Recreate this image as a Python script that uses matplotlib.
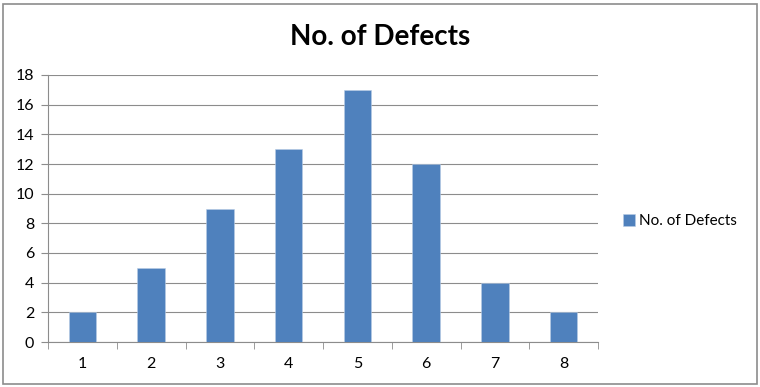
import matplotlib
matplotlib.use("Agg")
import matplotlib.pyplot as plt
from matplotlib.patches import Rectangle

categories = ["1", "2", "3", "4", "5", "6", "7", "8"]
defects = [2, 5, 9, 13, 17, 12, 4, 2]
series_name = "No. of Defects"
title = "No. of Defects"
y_ticks = [0, 2, 4, 6, 8, 10, 12, 14, 16, 18]

plt.rcParams['font.family'] = ['Lato', 'DejaVu Sans']

fig = plt.figure(figsize=(7.6, 3.87), dpi=100)
ax = fig.add_axes([48/760, 45/387, 550/760, 267/387])

x = list(range(len(categories)))
ax.bar(x, defects, width=0.4, color="#4F81BD", edgecolor="#B9CDE5", linewidth=0.4,
       label=series_name, zorder=3)

ax.set_xlim(-0.5, len(categories) - 0.5)
ax.set_ylim(0, 18)
ax.set_yticks(y_ticks)
ax.set_yticklabels([str(t) for t in y_ticks], fontsize=11.5)
ax.set_xticks(x)
ax.set_xticklabels(categories, fontsize=11.5)
ax.set_xticks([i - 0.5 for i in range(len(categories) + 1)], minor=True)

ax.grid(axis="y", color="#8C8C8C", linewidth=0.8, zorder=0)
for s in ["top", "right"]:
    ax.spines[s].set_visible(False)
for s in ["left", "bottom"]:
    ax.spines[s].set_color("#8C8C8C")
    ax.spines[s].set_linewidth(0.8)

ax.tick_params(axis="y", length=5, color="#8C8C8C", pad=5)
ax.tick_params(axis="x", which="major", length=0, pad=11)
ax.tick_params(axis="x", which="minor", length=5, color="#8C8C8C")

fig.text(380/760, 1 - 37/387, title, ha="center", va="center",
         fontsize=20, fontweight="bold")

leg = fig.legend(loc="center left", bbox_to_anchor=(615/760, 1 - 221/387),
                 frameon=False, fontsize=11, handlelength=0.8, handleheight=0.8,
                 handletextpad=0.3, borderpad=0)

fig.patches.append(Rectangle((3/760, 3/387), 754/760, 380/387, transform=fig.transFigure,
                             fill=False, edgecolor="#8C8C8C", linewidth=1.2))

fig.savefig("out.png", dpi=100)
